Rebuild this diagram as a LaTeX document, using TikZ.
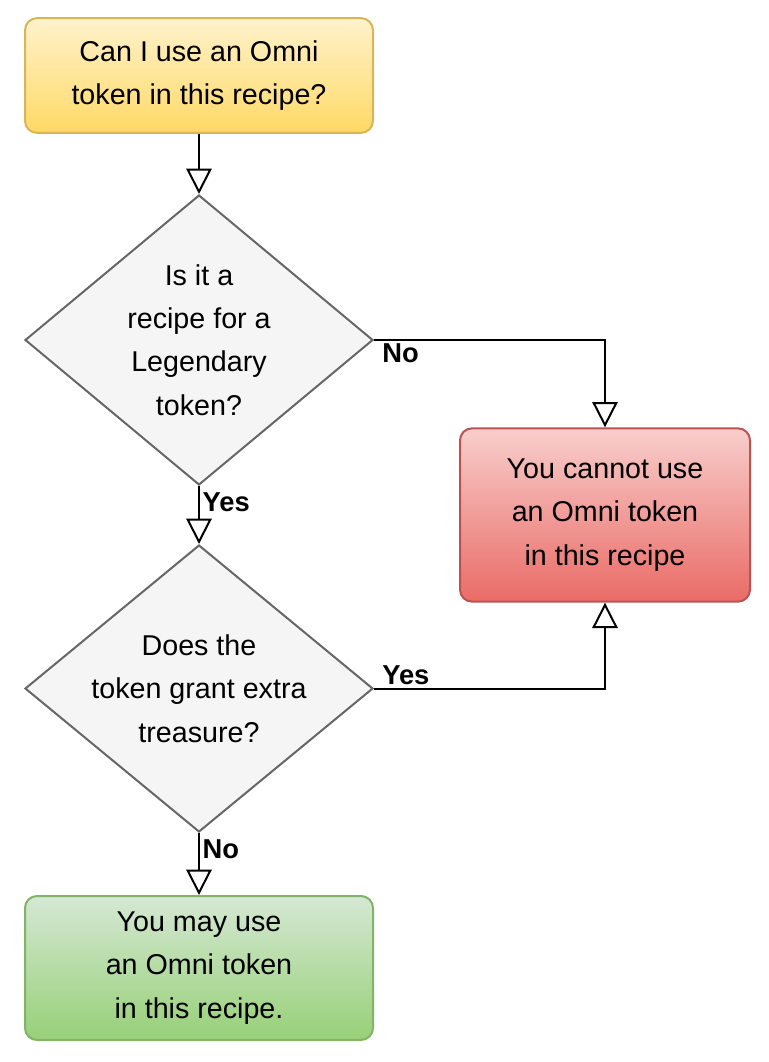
\documentclass[tikz,border=0pt]{standalone}
\usepackage{fontspec}
\setmainfont{Liberation Sans}
\usetikzlibrary{arrows.meta,shapes.geometric}
\definecolor{ybd}{HTML}{D6B656}\definecolor{yt}{HTML}{FFF2CC}\definecolor{yb}{HTML}{FFD966}
\definecolor{rbd}{HTML}{B85450}\definecolor{rt}{HTML}{F8CECC}\definecolor{rb}{HTML}{EA6B66}
\definecolor{gbd}{HTML}{82B366}\definecolor{gt}{HTML}{D5E8D4}\definecolor{gb}{HTML}{97D077}
\begin{document}
\begin{tikzpicture}[x=0.75pt,y=-0.75pt,
 box/.style={rounded corners=9pt,line width=1.5pt,align=center,font=\fontsize{21.5}{32.5}\selectfont},
 dia/.style={diamond,aspect=1.2,draw=black!60,fill=black!4,line width=1.5pt,align=center,inner sep=0pt,font=\fontsize{21.5}{32.5}\selectfont},
 arr/.style={line width=1.5pt,-{Triangle[open,width=19pt,length=19pt,line width=1.5pt]}},
 lab/.style={font=\bfseries\fontsize{20.5}{24}\selectfont,inner sep=2pt}]
\useasboundingbox (0,0) rectangle (768,1062);
\node[box,draw=ybd,top color=yt,bottom color=yb,minimum width=261pt,minimum height=86pt] (start) at (199,75.5) {Can I use an Omni\\token in this recipe?};
\node[dia,minimum width=261pt,minimum height=217.5pt] (d1) at (199,340) {Is it a\\recipe for a\\Legendary\\token?};
\node[dia,minimum width=261pt,minimum height=215pt] (d2) at (199,688.5) {Does the\\token grant extra\\treasure?};
\node[box,draw=rbd,top color=rt,bottom color=rb,minimum width=217.5pt,minimum height=130pt] (no) at (605,515) {You cannot use\\an Omni token\\in this recipe};
\node[box,draw=gbd,top color=gt,bottom color=gb,minimum width=261pt,minimum height=108pt] (yes) at (199,968) {You may use\\an Omni token\\in this recipe.};
\draw[arr] (start) -- (d1);
\draw[arr] (d1.east) -| (no.north) node[lab,pos=0.01,anchor=north west] {No};
\draw[arr] (d1.south) -- (d2.north) node[lab,pos=0.05,anchor=north west] {Yes};
\draw[arr] (d2.east) -| (no.south) node[lab,pos=0.01,anchor=south west] {Yes};
\draw[arr] (d2.south) -- (yes.north) node[lab,pos=0.05,anchor=north west] {No};
\end{tikzpicture}
\end{document}
